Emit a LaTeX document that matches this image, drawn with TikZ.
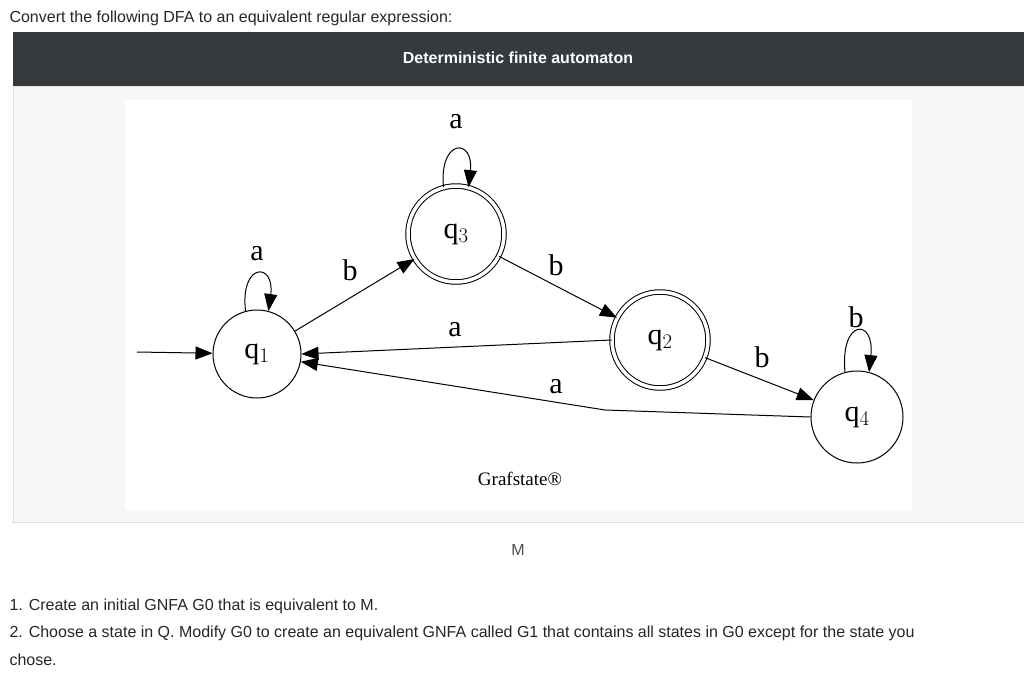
\documentclass[tikz,border=0pt]{standalone}
\usepackage{fontspec}
\setmainfont{Liberation Serif}
\newfontfamily\sans{Liberation Sans}
\usetikzlibrary{arrows.meta}
\begin{document}
\begin{tikzpicture}[x=1pt,y=-1pt,
  st/.style={circle,draw,line width=1pt,minimum size=88pt,inner sep=0pt,font=\fontsize{30}{34}\selectfont},
  acc/.style={st,double,double distance=3.5pt,minimum size=96pt},
  ed/.style={line width=1pt,-{Triangle[length=17pt,width=13pt]}},
  lb/.style={font=\fontsize{30}{34}\selectfont},
  txt/.style={font=\sans\fontsize{16}{19}\selectfont,anchor=west,text=black!85}]
\useasboundingbox (0,0) rectangle (1024,673);
\fill[white] (0,0) rectangle (1024,673);
\node[txt] (t0) at (6,18) {Convert the following DFA to an equivalent regular expression:};
\fill[black!3] (13,86) rectangle (1024,522);
\draw[black!12] (13,86) rectangle (1024,522);
\fill[fill={rgb,255:red,53;green,58;blue,63}] (13,32) rectangle (1024,86);
\node[font=\sans\bfseries\fontsize{16}{19}\selectfont,text=white] (hd) at (518,58) {Deterministic finite automaton};
\fill[white] (125,100) rectangle (912,510);
\node[st] (q1) at (257,354) {q$_1$};
\node[acc] (q3) at (456,234) {q$_3$};
\node[acc] (q2) at (660,340) {q$_2$};
\node[st,minimum size=92pt] (q4) at (857,417) {q$_4$};
\coordinate (s) at (137,352);
\coordinate (m) at (605,410);
\draw[ed] (q1.105) .. controls (240,262) and (275,262) .. (q1.75);
\draw[ed] (q3.105) .. controls (439,138) and (474,138) .. (q3.75);
\draw[ed] (q4.105) .. controls (840,318) and (875,318) .. (q4.75);
\draw[ed] (s) -- (q1);
\node[lb] (l1) at (257,254) {a};
\node[lb] (l3) at (456,122) {a};
\node[lb] (l4) at (856,317) {b};
\draw[ed] (q1) -- (q3);
\node[lb] (l13) at (350,270) {b};
\draw[ed] (q3) -- (q2);
\node[lb] (l32) at (556,265) {b};
\draw[ed] (q2.west) -- (q1.east);
\node[lb] (l21) at (455,330) {a};
\draw[ed] (q4.west) -- (m) -- (q1.-10);
\node[lb] (l41) at (556,387) {a};
\draw[ed] (q2) -- (q4);
\node[lb] (l24) at (762,357) {b};
\node[font=\fontsize{19}{22}\selectfont] (gf) at (520,479) {Grafstate\textregistered};
\node[font=\sans\fontsize{16}{19}\selectfont,text=black!70] (M) at (518,550) {M};
\node[txt] (t1) at (6,606) {1. Create an initial GNFA G0 that is equivalent to M.};
\node[txt] (t2) at (6,633) {2. Choose a state in Q. Modify G0 to create an equivalent GNFA called G1 that contains all states in G0 except for the state you};
\node[txt] (t3) at (6,660) {chose.};
\end{tikzpicture}
\end{document}
